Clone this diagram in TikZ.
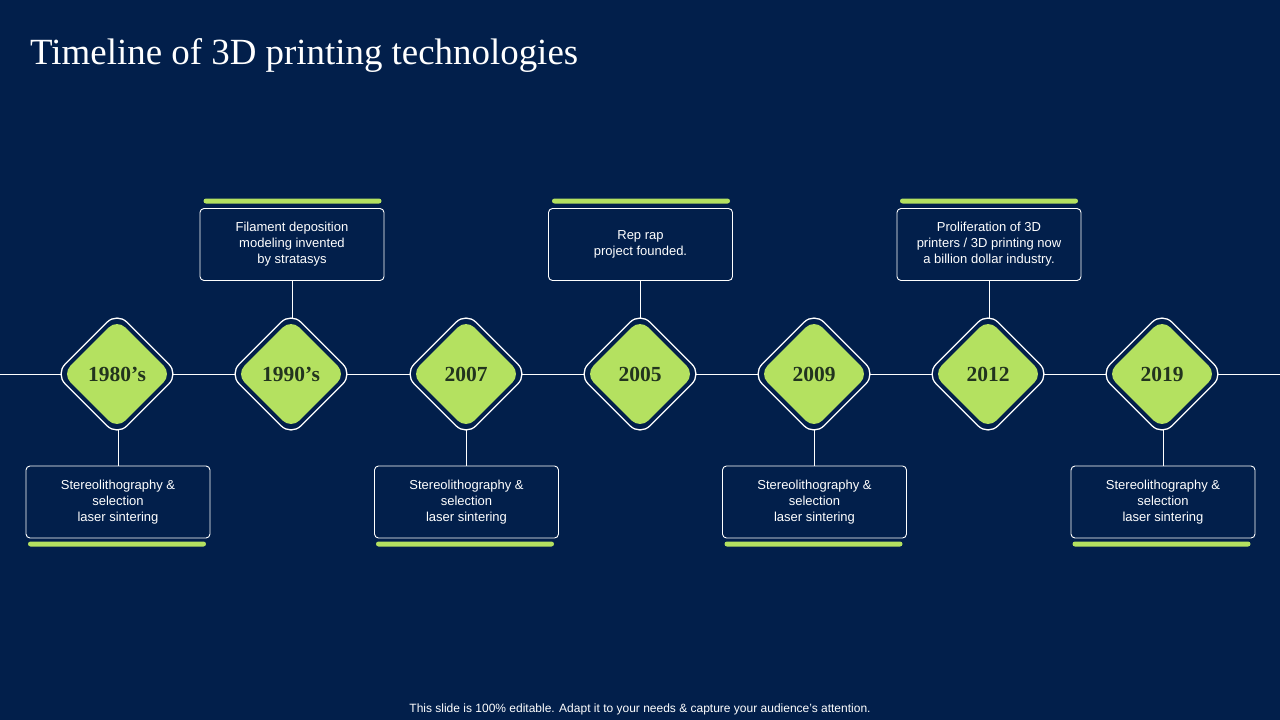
\documentclass[tikz,border=0pt]{standalone}
\usepackage{fontspec}
\setmainfont{Liberation Serif}
\setsansfont{Liberation Sans}
\usetikzlibrary{shapes.geometric}
\pgfdeclarelayer{back}
\pgfsetlayers{back,main}
\definecolor{bg}{RGB}{2,31,75}
\definecolor{lime}{RGB}{180,225,96}
\definecolor{yeartxt}{RGB}{34,52,30}
\begin{document}
\begin{tikzpicture}[x=1pt,y=-1pt,
  outerd/.style={diamond,aspect=1,minimum width=124pt,minimum height=124pt,inner sep=0pt,draw=white,line width=1.3pt,fill=bg,rounded corners=14pt},
  innerd/.style={diamond,aspect=1,minimum width=110pt,minimum height=110pt,inner sep=0pt,fill=lime,rounded corners=12pt,text=yeartxt,font=\fontsize{21.5}{24}\selectfont\bfseries},
  infobox/.style={rectangle,draw=white,line width=0.9pt,rounded corners=4pt,minimum width=184pt,minimum height=72pt,inner sep=2pt,align=center,text=white,font=\sffamily\fontsize{13}{16}\selectfont,fill=bg},
  bar/.style={rectangle,fill=lime,minimum width=178pt,minimum height=5pt,inner sep=0pt,rounded corners=2.5pt},
  conn/.style={draw=white,line width=0.9pt}]
\begin{pgfonlayer}{back}
\fill[bg] (0,0) rectangle (1280,720);
\end{pgfonlayer}
\useasboundingbox (0,0) rectangle (1280,720);
\node[anchor=base west,text=white,font=\fontsize{36.9}{42}\selectfont,inner sep=0pt] (title) at (30,64) {Timeline of 3D printing technologies};
\coordinate (L) at (0,374);
\coordinate (R) at (1280,374);
% diamonds
\foreach \i/\x/\t in {1/117/1980’s,2/291/1990’s,3/466/2007,4/640/2005,5/814/2009,6/988/2012,7/1162/2019}{
  \node[outerd] (d\i) at (\x,374) {};
  \node[innerd] (g\i) at (\x,374) {\t};
}
% top boxes
\node[infobox] (b2) at (292,244.5) {Filament deposition\\modeling invented\\by stratasys};
\node[infobox] (b4) at (640.5,244.5) {Rep rap\\project founded.};
\node[infobox] (b6) at (989,244.5) {Proliferation of 3D\\printers / 3D printing now\\a billion dollar industry.};
\node[bar] (t2) at (292.5,201) {};
\node[bar] (t4) at (641,201) {};
\node[bar] (t6) at (989,201) {};
% bottom boxes
\node[infobox] (b1) at (118,502) {Stereolithography \&\\selection\\laser sintering};
\node[infobox] (b3) at (466.5,502) {Stereolithography \&\\selection\\laser sintering};
\node[infobox] (b5) at (814.5,502) {Stereolithography \&\\selection\\laser sintering};
\node[infobox] (b7) at (1163,502) {Stereolithography \&\\selection\\laser sintering};
\node[bar] (u1) at (117,544) {};
\node[bar] (u3) at (465,544) {};
\node[bar] (u5) at (813.5,544) {};
\node[bar] (u7) at (1161.5,544) {};
% connectors (behind the diamonds)
\begin{pgfonlayer}{back}
\draw[conn] (L) -- (R);
\foreach \i in {2,4,6}{\draw[conn] (b\i.south) -- (b\i.south |- d\i.center);}
\foreach \i in {1,3,5,7}{\draw[conn] (b\i.north |- d\i.center) -- (b\i.north);}
\end{pgfonlayer}
% footer
\node[text=white,font=\sffamily\fontsize{12}{14}\selectfont,inner sep=0pt] (foot) at (640,709) {This slide is 100\% editable. Adapt it to your needs \& capture your audience’s attention.};
\end{tikzpicture}
\end{document}
